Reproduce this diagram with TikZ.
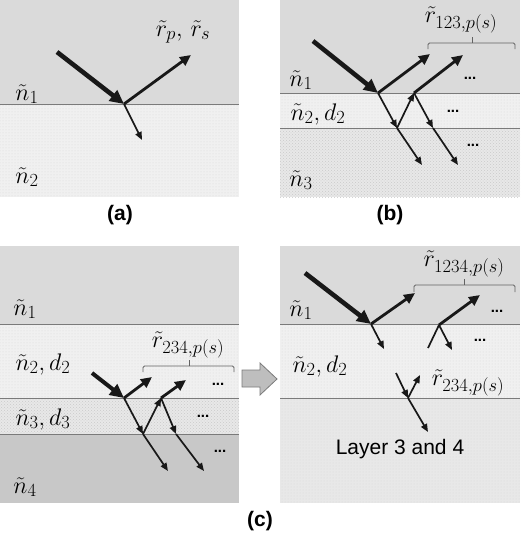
\RequirePackage{fix-cm}
\documentclass[tikz,border=0pt]{standalone}
\usepackage{fontspec}
\setmainfont{Liberation Sans}
\usetikzlibrary{patterns,arrows.meta}
\DeclareMathSizes{24}{24}{18.5}{14}
\definecolor{cone}{HTML}{DADADA}
\definecolor{ctwo}{HTML}{F0F0F0}
\definecolor{cthree}{HTML}{E8E8E8}
\definecolor{cfour}{HTML}{C8C8C8}
\definecolor{cfive}{HTML}{E8E8E8}
\definecolor{cdot}{HTML}{D8D8D8}
\definecolor{cdotb}{HTML}{CACACA}
\definecolor{cline}{HTML}{7A7A7A}
\definecolor{cray}{HTML}{181818}
\definecolor{carrow}{HTML}{BEBEBE}
\begin{document}
\begin{tikzpicture}[x=1pt,y=-1pt,
  bigray/.style={draw=cray, line width=4.6pt, -{Triangle[length=14pt,width=13pt]}},
  refl/.style={draw=cray, line width=2.8pt, -{Triangle[length=11pt,width=10pt]}},
  trans/.style={draw=cray, line width=1.7pt, -{Triangle[length=8pt,width=6.5pt]}},
  plain/.style={draw=cray, line width=1.7pt},
  iface/.style={draw=cline, line width=1pt},
  bracket/.style={draw=cline!80!black, line width=0.8pt, rounded corners=1.5pt},
  mlab/.style={inner sep=0pt, font=\fontsize{24}{27}\selectfont},
  tlab/.style={inner sep=0pt, font=\fontsize{21}{25}\selectfont},
  plab/.style={inner sep=0pt, font=\fontsize{21}{25}\selectfont\bfseries},
  dotlab/.style={inner sep=0pt, font=\fontsize{15}{15}\selectfont\bfseries},
  dotted layer/.style={pattern=dots, pattern color=cdot},
  dense layer/.style={pattern=crosshatch dots, pattern color=cdotb}]
\useasboundingbox (0,0) rectangle (520,538);

% ---------------- panel (a)
\fill[cone] (0,0) rectangle (239,104);
\fill[ctwo] (0,104) rectangle (239,197);
\fill[dotted layer] (0,104) rectangle (239,197);
\draw[iface] (0,104) -- (239,104);
\node[mlab] (a-n1) at (27,94) {$\tilde{n}_1$};
\node[mlab] (a-n2) at (27,177) {$\tilde{n}_2$};
\node[mlab] (a-r) at (183,32) {$\tilde{r}_p,\,\tilde{r}_s$};
\node[plab] (a-cap) at (120,215) {(a)};
\coordinate (a-in) at (57,52);
\coordinate (a-hit) at (124,104);
\coordinate (a-out) at (191,55);
\coordinate (a-tr) at (142,140);
\draw[bigray] (a-in) -- (a-hit);
\draw[refl] (a-hit) -- (a-out);
\draw[trans] (a-hit) -- (a-tr);

% ---------------- panel (b)
\fill[cone] (280,0) rectangle (520,93);
\fill[ctwo] (280,93) rectangle (520,128);
\fill[dotted layer] (280,93) rectangle (520,128);
\fill[cthree] (280,128) rectangle (520,197);
\fill[dense layer] (280,128) rectangle (520,197);
\draw[iface] (280,93) -- (520,93);
\draw[iface] (280,128) -- (520,128);
\node[mlab] (b-n1) at (301,80) {$\tilde{n}_1$};
\node[mlab] (b-n2) at (318,114) {$\tilde{n}_2,d_2$};
\node[mlab] (b-n3) at (301,180) {$\tilde{n}_3$};
\node[mlab] (b-r) at (461,20) {$\tilde{r}_{123,p(s)}$};
\draw[bracket] (428,49) -- (428,43) -- (515,43) -- (515,49);
\draw[bracket] (472,43) -- (472,37);
\node[dotlab] (b-d1) at (470,78) {...};
\node[dotlab] (b-d2) at (453,111) {...};
\node[dotlab] (b-d3) at (473,145) {...};
\node[plab] (b-cap) at (390,215) {(b)};
\coordinate (b-in) at (313,41);
\coordinate (b-h1) at (378,93);
\coordinate (b-o1) at (430,54);
\coordinate (b-h2) at (397,128);
\coordinate (b-t1) at (422,165);
\coordinate (b-h3) at (414,93);
\coordinate (b-o2) at (463,55);
\coordinate (b-h4) at (433,128);
\coordinate (b-t2) at (458,165);
\draw[bigray] (b-in) -- (b-h1);
\draw[refl] (b-h1) -- (b-o1);
\draw[trans] (b-h1) -- (b-h2);
\draw[trans] (b-h2) -- (b-t1);
\draw[trans] (b-h2) -- (b-h3);
\draw[refl] (b-h3) -- (b-o2);
\draw[trans] (b-h3) -- (b-h4);
\draw[trans] (b-h4) -- (b-t2);

% ---------------- panel (c) left
\fill[cone] (0,246) rectangle (239,324);
\fill[ctwo] (0,324) rectangle (239,398);
\fill[dotted layer] (0,324) rectangle (239,398);
\fill[cthree] (0,398) rectangle (239,434);
\fill[dense layer] (0,398) rectangle (239,434);
\fill[cfour] (0,434) rectangle (239,503);
\draw[iface] (0,324) -- (239,324);
\draw[iface] (0,398) -- (239,398);
\draw[iface] (0,434) -- (239,434);
\node[mlab] (c-n1) at (25,309) {$\tilde{n}_1$};
\node[mlab] (c-n2) at (43,364) {$\tilde{n}_2,d_2$};
\node[mlab] (c-n3) at (43,419) {$\tilde{n}_3,d_3$};
\node[mlab] (c-n4) at (25,487) {$\tilde{n}_4$};
\node[mlab] (c-r) at (188,345) {$\tilde{r}_{234,p(s)}$};
\draw[bracket] (143,372) -- (143,366) -- (234,366) -- (234,372);
\draw[bracket] (189,366) -- (189,360);
\node[dotlab] (c-d1) at (218,384) {...};
\node[dotlab] (c-d2) at (203,416) {...};
\node[dotlab] (c-d3) at (220,451) {...};
\coordinate (c-in) at (92,373);
\coordinate (c-h1) at (124,398);
\coordinate (c-o1) at (152,377);
\coordinate (c-h2) at (143,434);
\coordinate (c-t1) at (168,471);
\coordinate (c-h3) at (161,398);
\coordinate (c-o2) at (186,380);
\coordinate (c-h4) at (176,434);
\coordinate (c-t2) at (204,471);
\draw[bigray, line width=4pt] (c-in) -- (c-h1);
\draw[refl] (c-h1) -- (c-o1);
\draw[trans] (c-h1) -- (c-h2);
\draw[trans] (c-h2) -- (c-t1);
\draw[trans] (c-h2) -- (c-h3);
\draw[refl] (c-h3) -- (c-o2);
\draw[trans] (c-h3) -- (c-h4);
\draw[trans] (c-h4) -- (c-t2);

% ---------------- transition arrow
\draw[draw=cline, fill=carrow, line width=0.8pt]
  (242,370) -- (260,370) -- (260,363) -- (277,379) -- (260,395) -- (260,387) -- (242,387) -- cycle;

% ---------------- panel (c) right
\fill[cone] (280,246) rectangle (520,324);
\fill[ctwo] (280,324) rectangle (520,398);
\fill[dotted layer] (280,324) rectangle (520,398);
\fill[cfive] (280,398) rectangle (520,503);
\fill[dotted layer] (280,398) rectangle (520,503);
\draw[iface] (280,324) -- (520,324);
\draw[iface] (280,398) -- (520,398);
\node[mlab] (d-n1) at (301,310) {$\tilde{n}_1$};
\node[mlab] (d-n2) at (320,366) {$\tilde{n}_2,d_2$};
\node[mlab] (d-r) at (464,264) {$\tilde{r}_{1234,p(s)}$};
\draw[bracket] (414,292) -- (414,285) -- (515,285) -- (515,292);
\draw[bracket] (464,285) -- (464,279);
\node[mlab] (d-r2) at (468,383) {$\tilde{r}_{234,p(s)}$};
\node[dotlab] (d-d1) at (497,311) {...};
\node[dotlab] (d-d2) at (480,340) {...};
\node[tlab] (d-layer) at (400,449) {Layer 3 and 4};
\coordinate (d-in) at (305,273);
\coordinate (d-h1) at (371,324);
\coordinate (d-o1) at (415,293);
\coordinate (d-t1) at (384,349);
\coordinate (d-s) at (428,348);
\coordinate (d-h2) at (439,325);
\coordinate (d-o2) at (480,295);
\coordinate (d-t2) at (452,350);
\coordinate (d-lin) at (396,373);
\coordinate (d-lh) at (408,398);
\coordinate (d-lo) at (420,375);
\coordinate (d-lt) at (428,432);
\draw[bigray] (d-in) -- (d-h1);
\draw[refl] (d-h1) -- (d-o1);
\draw[trans] (d-h1) -- (d-t1);
\draw[plain] (d-s) -- (d-h2);
\draw[refl] (d-h2) -- (d-o2);
\draw[trans] (d-h2) -- (d-t2);
\draw[trans] (d-lin) -- (d-lh);
\draw[trans] (d-lh) -- (d-lo);
\draw[trans] (d-lh) -- (d-lt);

\node[plab] (c-cap) at (260,521) {(c)};
\end{tikzpicture}
\end{document}
